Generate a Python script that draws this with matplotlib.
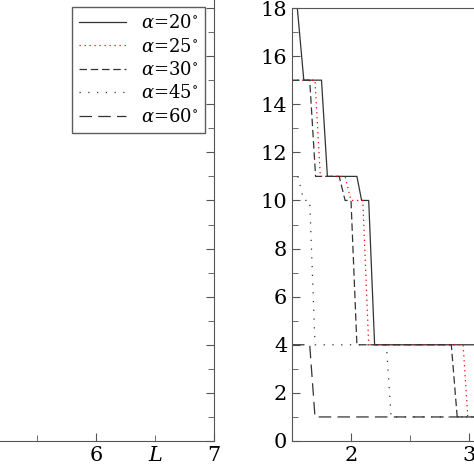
import matplotlib
matplotlib.use("Agg")
import matplotlib.pyplot as plt
from matplotlib.ticker import MultipleLocator

plt.rcParams['font.family'] = 'DejaVu Serif'
plt.rcParams['mathtext.fontset'] = 'dejavuserif'

x20 = [1.545, 1.60, 1.75, 1.80, 2.05, 2.09, 2.15, 2.20, 3.6]
y20 = [18, 15, 15, 11, 11, 10, 10, 4, 4]
x25 = [1.5, 1.695, 1.74, 1.95, 2.00, 2.10, 2.15, 2.95, 2.99, 3.6]
y25 = [15, 15, 11, 11, 10, 10, 4, 4, 1, 1]
x30 = [1.5, 1.65, 1.70, 1.90, 1.95, 2.00, 2.05, 2.85, 2.90, 3.6]
y30 = [15, 15, 11, 11, 10, 10, 4, 4, 1, 1]
x45 = [1.55, 1.60, 1.65, 1.695, 2.30, 2.34, 3.6]
y45 = [11, 10, 10, 4, 4, 1, 1]
x60 = [1.5, 1.65, 1.695, 3.6]
y60 = [4, 4, 1, 1]
labels = [r'$\alpha$=$\mathit{20}^{\circ}$', r'$\alpha$=$\mathit{25}^{\circ}$', r'$\alpha$=$\mathit{30}^{\circ}$',
          r'$\alpha$=$\mathit{45}^{\circ}$', r'$\alpha$=$\mathit{60}^{\circ}$']

fig = plt.figure(figsize=(4.74, 4.74), dpi=100)
W = 474
axL = fig.add_axes([-22/W, 33/W, 236/W, 460/W])
axR = fig.add_axes([292/W, 33/W, 236/W, 433/W])

c = '#333333'
styles = [dict(color=c, ls='-'), dict(color='red', ls=(0, (1, 3))),
          dict(color=c, ls=(0, (6, 3))), dict(color=c, ls=(0, (1, 6))),
          dict(color=c, ls=(0, (10, 5)))]
data = [(x20, y20), (x25, y25), (x30, y30), (x45, y45), (x60, y60)]
handles = []
for (xs, ys), st, lab in zip(data, styles, labels):
    h, = axR.plot(xs, ys, lw=0.9, label=lab, **st)
    handles.append(h)

axR.set_xlim(1.5, 3.5)
axR.set_ylim(0, 18)
axR.set_xticks([2, 3])
axR.xaxis.set_minor_locator(MultipleLocator(0.5))
axR.yaxis.set_major_locator(MultipleLocator(2))
axR.yaxis.set_minor_locator(MultipleLocator(1))

axL.set_xlim(5, 7)
axL.set_ylim(0, 18 * 460 / 433)
axL.set_xticks([6, 7])
axL.xaxis.set_minor_locator(MultipleLocator(0.5))
axL.yaxis.set_major_locator(MultipleLocator(2))
axL.yaxis.set_minor_locator(MultipleLocator(1))
axL.yaxis.tick_right()
axL.tick_params(axis='y', labelright=False, labelleft=False)
axL.spines['left'].set_visible(False)
axL.annotate('$L$', xy=(6.5, 0), xycoords=('data', 'axes fraction'), xytext=(0, -3.5),
             textcoords='offset points', ha='center', va='top', fontsize=15)

for ax in (axL, axR):
    for s in ax.spines.values():
        s.set_color('#555555')
    ax.tick_params(which='both', direction='in', color='#555555', labelsize=15)
    ax.tick_params(which='major', length=6)
    ax.tick_params(which='minor', length=4)

fig.legend(handles=handles, loc='upper right', bbox_to_anchor=(214/W, 1 + 2/W),
           fontsize=13, frameon=True, fancybox=False, edgecolor='#333333',
           handlelength=2.6, borderpad=0.4, labelspacing=0.3)
fig.savefig('out.png', dpi=100)
